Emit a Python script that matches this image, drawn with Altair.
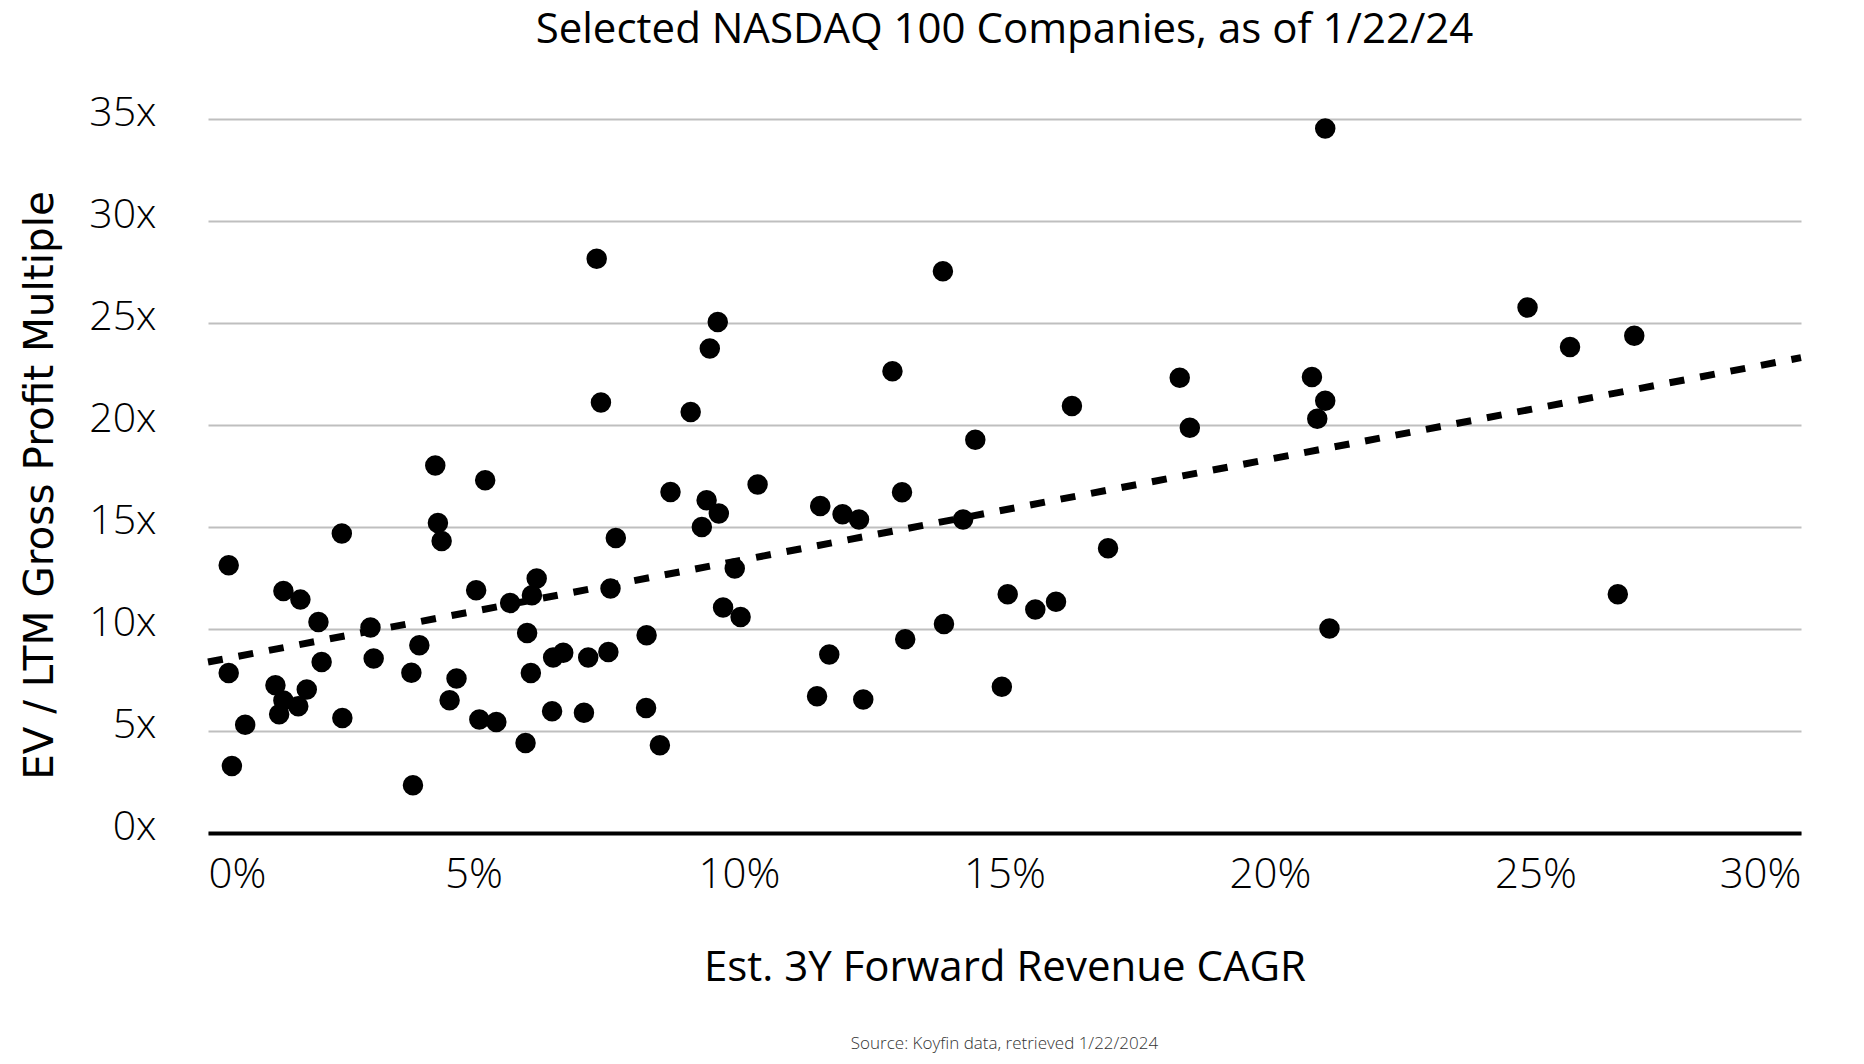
import altair as alt
import pandas as pd

# Est. 3Y forward revenue CAGR (%) and EV / LTM gross profit multiple (x)
cagr = [
    0.39, 0.39, 0.45, 0.70, 1.27, 1.34, 1.42, 1.70, 1.86, 1.42,
    1.74, 2.08, 2.14, 2.52, 2.53, 3.06, 3.12, 3.83, 3.86, 3.98,
    4.28, 4.33, 4.40, 4.55, 4.68, 5.05, 5.11, 5.22, 5.43, 5.69,
    5.98, 6.01, 6.08, 6.10, 6.19, 6.50, 6.48, 6.69, 7.08, 7.16,
    7.54, 7.58, 7.68, 8.25, 8.26, 8.51, 7.32, 7.40, 8.71, 9.09,
    9.30, 9.39, 9.45, 9.60, 9.62, 9.70, 9.92, 10.03, 10.35, 11.47,
    11.53, 11.70, 11.95, 12.26, 12.34, 12.89, 13.07, 13.13, 13.84, 13.86,
    14.22, 14.45, 14.95, 15.06, 15.58, 15.97, 16.27, 16.95, 18.30, 18.49,
    20.79, 20.89, 21.04, 21.04, 21.12, 24.85, 25.65, 26.55, 26.86,
]
multiple = [
    13.12, 7.84, 3.28, 5.31, 7.24, 5.82, 6.50, 6.21, 7.03, 11.86,
    11.44, 10.34, 8.38, 14.68, 5.64, 10.07, 8.55, 7.86, 2.34, 9.20,
    18.02, 15.20, 14.31, 6.51, 7.57, 11.90, 5.56, 17.29, 5.44, 11.27,
    4.41, 9.80, 7.84, 11.65, 12.47, 8.60, 5.97, 8.83, 5.90, 8.60,
    8.87, 11.98, 14.46, 6.13, 9.69, 4.30, 28.15, 21.10, 16.72, 20.64,
    15.00, 16.31, 23.75, 25.05, 15.66, 11.05, 12.96, 10.59, 17.08, 6.70,
    16.03, 8.75, 15.62, 15.37, 6.54, 22.64, 16.70, 9.50, 27.54, 10.25,
    15.37, 19.28, 7.17, 11.70, 10.95, 11.33, 20.93, 13.96, 22.32, 19.86,
    22.35, 20.31, 21.19, 34.53, 10.03, 25.76, 23.82, 11.70, 24.38,
]

# linear trendline as drawn in the source (end points)
trend_cagr = [0, 30]
trend_multiple = [8.38, 23.3]

x_ticks = [0, 5, 10, 15, 20, 25, 30]
y_ticks = [0, 5, 10, 15, 20, 25, 30, 35]
source_note = ["Source: Koyfin data, retrieved 1/22/2024"]

df = pd.DataFrame({"cagr": cagr, "multiple": multiple})
trend_df = pd.DataFrame({"cagr": trend_cagr, "multiple": trend_multiple})
note_df = pd.DataFrame({"note": source_note})

W, H = 1593, 714

x_enc = alt.X(
    "cagr:Q",
    scale=alt.Scale(domain=[0, 30], nice=False),
    axis=alt.Axis(
        values=x_ticks,
        labelExpr="datum.value + '%'",
        grid=False,
        ticks=False,
        tickSize=0,
        domainColor="black",
        domainWidth=4,
        labelFont="Open Sans",
        labelFontWeight=300,
        labelFontSize=42,
        labelColor="black",
        labelPadding=21,
        labelBaseline="top",
        title="Est. 3Y Forward Revenue CAGR",
        titleFont="Open Sans",
        titleFontWeight=400,
        titleFontSize=42,
        titleColor="black",
        titleBaseline="middle",
        titleY=134,
    ),
)
y_enc = alt.Y(
    "multiple:Q",
    scale=alt.Scale(domain=[0, 35], nice=False),
    axis=alt.Axis(
        values=y_ticks,
        labelExpr="datum.value + 'x'",
        grid=True,
        gridColor="#bfbfbf",
        gridWidth=2,
        domain=False,
        ticks=False,
        tickSize=0,
        labelFont="Open Sans",
        labelFontWeight=300,
        labelFontSize=41,
        labelColor="black",
        labelPadding=52,
        labelOffset=-6,
        title="EV / LTM Gross Profit Multiple",
        titleFont="DejaVu Sans",
        titleFontWeight=400,
        titleFontSize=40.5,
        titleColor="black",
        titleAngle=270,
        titleBaseline="middle",
        titleAlign="center",
        titleX=-168,
        titleY=366,
    ),
)

points = alt.Chart(df).mark_circle(size=420, color="black", opacity=1).encode(
    x=x_enc, y=y_enc
)

trend = alt.Chart(trend_df).mark_line(
    color="black", strokeWidth=7, strokeDash=[15, 16]
).encode(x="cagr:Q", y="multiple:Q")

note = alt.Chart(note_df).mark_text(
    font="Open Sans", fontSize=17, fontWeight=300, color="#333333", baseline="middle"
).encode(text="note:N", x=alt.value(W / 2), y=alt.value(925))

chart = (
    alt.layer(points, trend, note)
    .properties(
        width=W,
        height=H,
        padding={"left": 200, "top": 111, "right": 55, "bottom": 222},
        autosize=alt.AutoSizeParams(type="none"),
        title=alt.Title(
            "Selected NASDAQ 100 Companies, as of 1/22/24",
            font="Open Sans",
            fontSize=42,
            fontWeight=400,
            color="black",
            anchor="middle",
            baseline="alphabetic",
            offset=7,
        ),
    )
    .configure_view(strokeWidth=0)
)

chart.save("out.html", embed_options={"renderer": "svg", "actions": False})
